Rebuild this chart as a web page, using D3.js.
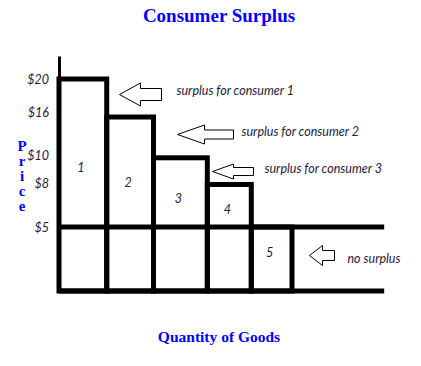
<!DOCTYPE html>
<html>
<head>
<meta charset="utf-8">
<script src="https://cdn.jsdelivr.net/npm/d3@7"></script>
<style>
  body { margin: 0; background: #fff; }
</style>
</head>
<body>
<script>
// chart data
var consumers = ["1", "2", "3", "4", "5"]
var willingness = [20, 15.3, 9.8, 7.9, 5]      // top of each bar
var quantities = [1.02, 1.0, 1.15, 0.94, 0.87] // bar widths as drawn (hand drawn, not equal)
var priceTicks = [20, 16, 10, 8, 5]
var marketPrice = 5
var noteTexts = ["surplus for consumer 1", "surplus for consumer 2", "surplus for consumer 3", "no surplus"]
var noteBars = [0, 1, 2, 4]

// Draw the chart
function setUpCanvas(){

    var svg = d3.select("body")
                .append("svg")
                .attr("width", 421)
                .attr("height", 366)

    // hand drawn price axis, so the scale is piecewise
    var yScale = d3.scaleLinear()
                    .domain([0, 5, 8, 10, 16, 20, 22])
                    .range([291, 227, 183, 155, 112, 79, 56])

    var edges = [0].concat(Array.from(d3.cumsum(quantities)))
    var xScale = d3.scaleLinear()
                    .domain([0, edges[edges.length - 1]])
                    .range([59, 292])

    var ink = "#1c1c3c"

    svg.append("text")
        .attr("x", 219).attr("y", 22)
        .attr("text-anchor", "middle")
        .style("font", "bold 19px 'Liberation Serif', serif")
        .style("fill", "#0000ff")
        .text("Consumer Surplus")

    // y axis
    var yAxis = svg.append("g")
                    .attr("transform", "translate(" + xScale(0) + ",0)")
                    .call(d3.axisLeft(yScale).tickValues(priceTicks)
                            .tickSize(0).tickSizeOuter(0).tickPadding(10)
                            .tickFormat(function(d){ return "$" + d }))
    yAxis.select(".domain").attr("stroke", "#000").attr("stroke-width", 3)
    yAxis.selectAll("text")
        .style("font", "italic 12.5px Lato, sans-serif")
        .style("fill", ink)

    // "Price" written top to bottom
    svg.append("g").selectAll("text")
        .data("Price".split(""))
        .enter()
        .append("text")
        .attr("x", 22)
        .attr("y", function(d, i){ return 151 + i * 15 })
        .attr("text-anchor", "middle")
        .style("font", "bold 15px 'Liberation Serif', serif")
        .style("fill", "#0000ff")
        .text(function(d){ return d })

    // bars
    svg.append("g").selectAll(".bar")
        .data(willingness)
        .enter()
        .append("rect")
        .attr("class", "bar")
        .attr("x", function(d, i){ return xScale(edges[i]) })
        .attr("y", function(d){ return yScale(d) })
        .attr("width", function(d, i){ return xScale(edges[i + 1]) - xScale(edges[i]) })
        .attr("height", function(d){ return yScale(0) - yScale(d) })
        .attr("fill", "none")
        .attr("stroke", "#000")
        .attr("stroke-width", 5)

    // price line and baseline
    var lineEnd = xScale(6.95)
    svg.append("g").selectAll("line")
        .data([marketPrice, 0])
        .enter()
        .append("line")
        .attr("x1", xScale(0)).attr("x2", lineEnd)
        .attr("y1", function(d){ return yScale(d) })
        .attr("y2", function(d){ return yScale(d) })
        .attr("stroke", "#000")
        .attr("stroke-width", 5)

    // consumer numbers
    svg.append("g").selectAll("text")
        .data(consumers)
        .enter()
        .append("text")
        .attr("x", function(d, i){ return (xScale(edges[i]) + xScale(edges[i + 1])) / 2 - 2 })
        .attr("y", function(d, i){
            var top = yScale(willingness[i])
            if (willingness[i] > marketPrice) return top + 0.6 * (yScale(marketPrice) - top) + 4
            return top + 0.4 * (yScale(0) - top) + 4
        })
        .attr("text-anchor", "middle")
        .style("font", "italic 12.5px Lato, sans-serif")
        .style("fill", ink)
        .text(function(d){ return d })

    // arrows + notes (shapes are hand drawn, so each gets its own size)
    var arrowLayout = [
        {dx: 12, dy: 14.5, len: 42, head: 21, hh: 11.5, sh: 6, gap: 15, ty: 0},
        {dx: 23, dy: 16.5, len: 56, head: 27, hh: 9.5, sh: 4.5, gap: 8, ty: 1.5},
        {dx: 5, dy: 13.5, len: 41, head: 21, hh: 7.5, sh: 4, gap: 11, ty: 1.5},
        {dx: 17, dy: 28, len: 25, head: 13, hh: 10, sh: 5, gap: 13, ty: 7}
    ]

    var notes = svg.append("g").selectAll("g")
        .data(noteTexts)
        .enter()
        .append("g")
        .attr("transform", function(d, i){
            var b = noteBars[i], a = arrowLayout[i]
            var tx = Math.round(xScale(edges[b + 1]) + a.dx) + 0.5
            var ty = Math.round(yScale(willingness[b]) + a.dy) + 0.5
            return "translate(" + tx + "," + ty + ")"
        })

    notes.append("path")
        .attr("d", function(d, i){
            var a = arrowLayout[i]
            return "M0,0L" + a.head + "," + (-a.hh) + "L" + a.head + "," + (-a.sh) +
                   "L" + a.len + "," + (-a.sh) + "L" + a.len + "," + a.sh +
                   "L" + a.head + "," + a.sh + "L" + a.head + "," + a.hh + "Z"
        })
        .attr("fill", "#fff")
        .attr("stroke", "#000")
        .attr("stroke-width", 1)

    notes.append("text")
        .attr("x", function(d, i){ return arrowLayout[i].len + arrowLayout[i].gap })
        .attr("y", function(d, i){ return arrowLayout[i].ty })
        .style("font", "italic 12.5px Lato, sans-serif")
        .style("fill", ink)
        .text(function(d){ return d })

    svg.append("text")
        .attr("x", 219).attr("y", 342)
        .attr("text-anchor", "middle")
        .style("font", "bold 15.5px 'Liberation Serif', serif")
        .style("fill", "#0000ff")
        .text("Quantity of Goods")
}

setUpCanvas()
</script>
</body>
</html>
